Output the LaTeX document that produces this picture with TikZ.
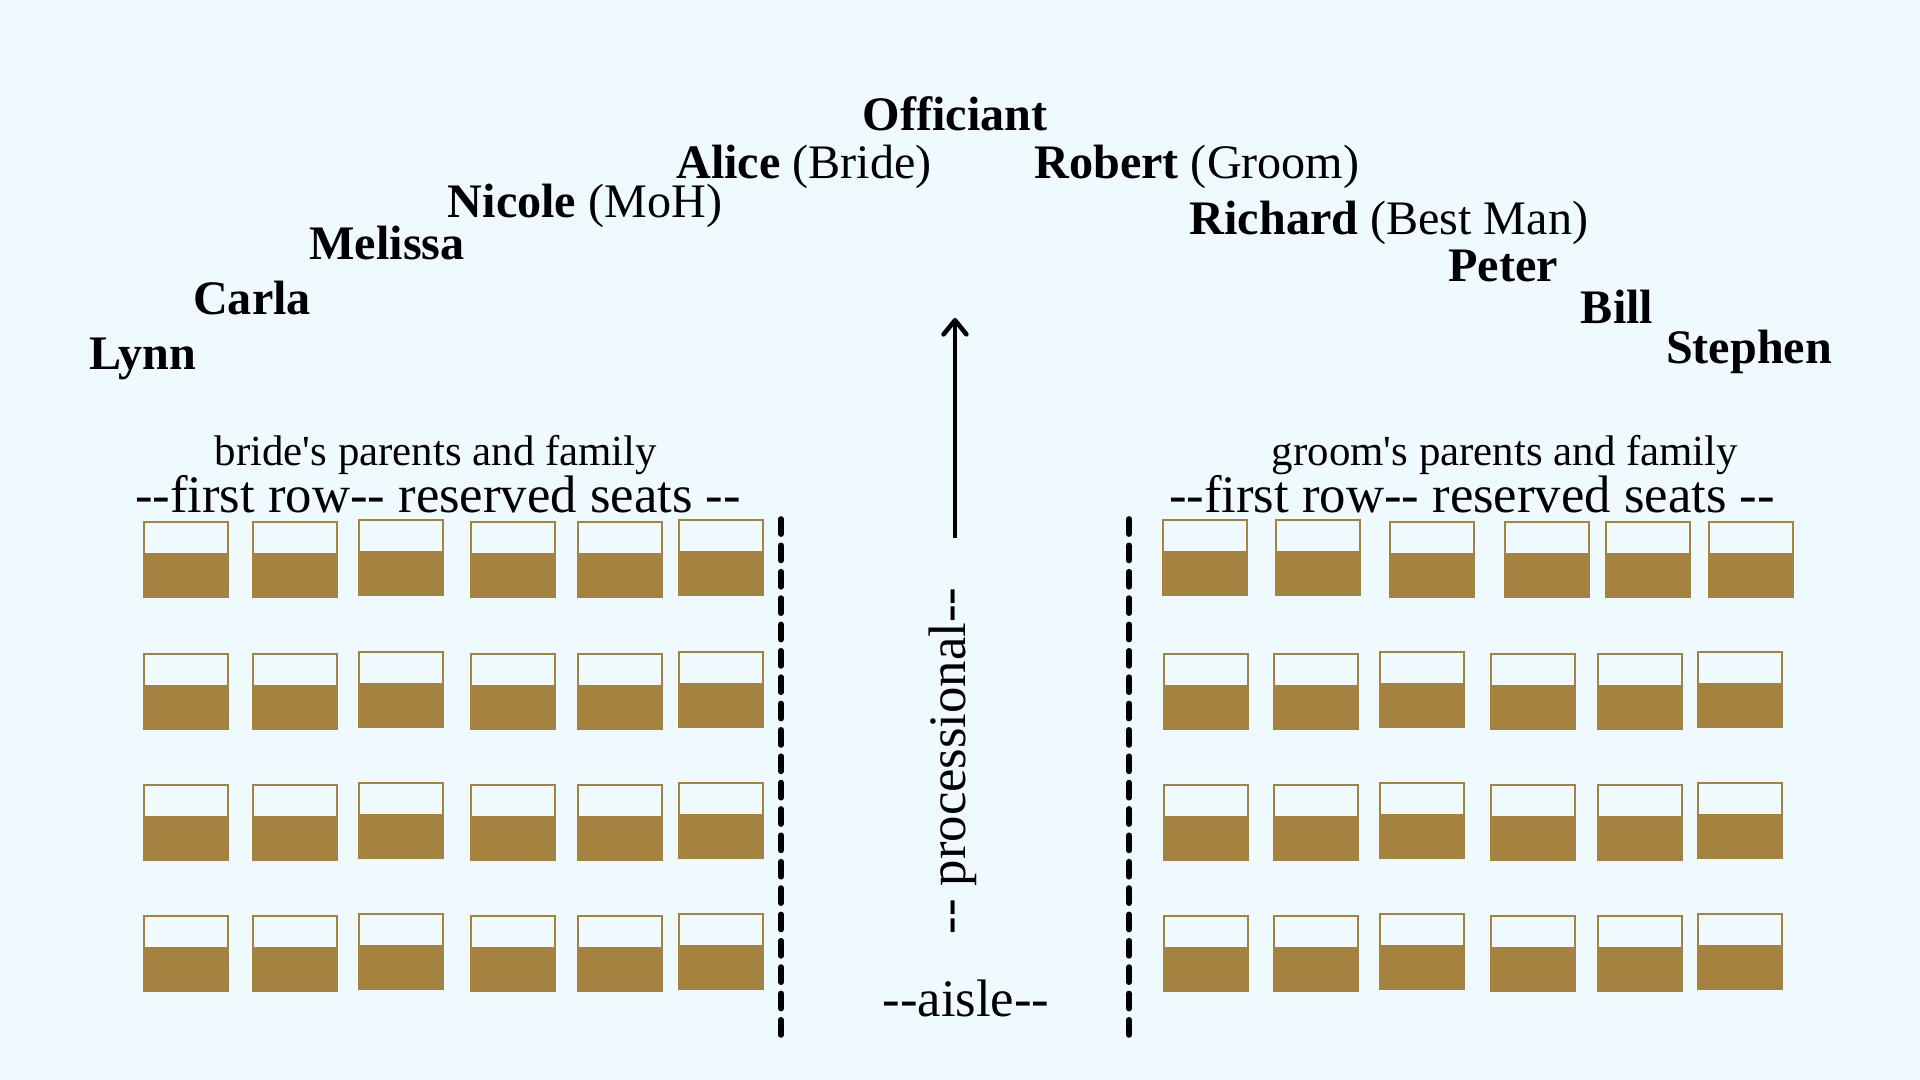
\documentclass[tikz,border=0pt]{standalone}
\usepackage{fontspec}
\setmainfont{Liberation Serif}
\usepackage{tikz}
\usetikzlibrary{arrows.meta, positioning, calc}
\definecolor{hallblue}{RGB}{239, 250, 255}
\definecolor{seatbrown}{RGB}{166, 130, 65}
\definecolor{inkblack}{RGB}{0, 0, 0}

\begin{document}
\begin{tikzpicture}[
    seat/.style={
        rectangle, draw=seatbrown, line width=0.6pt, inner sep=0pt,
        minimum width=0.84cm, minimum height=0.75cm, anchor=north west,
        path picture={\fill[seatbrown] (path picture bounding box.south west)
            rectangle ([yshift=0.44cm]path picture bounding box.south east);}
    },
    guest/.style={anchor=base, text=inkblack, inner sep=0pt,
        font=\fontsize{13.7}{16}\selectfont},
    family/.style={anchor=base, inner sep=0pt, font=\fontsize{12.2}{14}\selectfont},
    reserved/.style={anchor=base, inner sep=0pt, font=\fontsize{15}{18}\selectfont},
    divider/.style={line width=1.6pt, line cap=round, dash pattern=on 4.3pt off 3.2pt},
    arrow/.style={-{Straight Barb[length=4pt, width=6.5pt, round]}, line width=1.3pt}
]
    \useasboundingbox [fill=hallblue] (0,0) rectangle (19.2,10.8);

    % wedding party
    \node [guest] (officiant) at (9.55,9.49) {\textbf{Officiant}};
    \node [guest] (bride)   at (8.04,9.01)  {\textbf{Alice} (Bride)};
    \node [guest] (groom)   at (11.97,9.01) {\textbf{Robert} (Groom)};
    \node [guest] (moh)     at (5.85,8.62)  {\textbf{Nicole} (MoH)};
    \node [guest] (melissa) at (3.87,8.20)  {\textbf{Melissa}};
    \node [guest] (carla)   at (2.52,7.65)  {\textbf{Carla}};
    \node [guest] (lynn)    at (1.43,7.10)  {\textbf{Lynn}};
    \node [guest] (bestman) at (13.89,8.45) {\textbf{Richard} (Best Man)};
    \node [guest] (peter)   at (15.03,7.98) {\textbf{Peter}};
    \node [guest] (bill)    at (16.17,7.56) {\textbf{Bill}};
    \node [guest] (stephen) at (17.49,7.16) {\textbf{Stephen}};

    % family headings
    \node [family]   (bridefam)  at (4.36,6.14)  {bride\textquotesingle s parents and family};
    \node [reserved] (bridefirst) at (4.38,5.67) {-{}-first row-{}- reserved seats -{}-};
    \node [family]   (groomfam)  at (15.05,6.14) {groom\textquotesingle s parents and family};
    \node [reserved] (groomfirst) at (14.72,5.67) {-{}-first row-{}- reserved seats -{}-};

    % seats, bride's side
    \foreach \row/\top in {1/5.59, 2/4.27, 3/2.96, 4/1.65} {
        \foreach \x/\dy [count=\i] in {1.43/0, 2.52/0, 3.58/0.02, 4.70/0, 5.77/0, 6.78/0.02}
            \node [seat] (b-\row-\i) at (\x,\top+\dy) {};
    }

    % seats, groom's side
    \foreach \x/\dy [count=\i] in {11.62/0.02, 12.75/0.02, 13.89/0, 15.04/0, 16.05/0, 17.08/0}
        \node [seat] (g-1-\i) at (\x,5.59+\dy) {};
    \foreach \row/\top in {2/4.27, 3/2.96, 4/1.65} {
        \foreach \x/\dy [count=\i] in {11.63/0, 12.73/0, 13.79/0.02, 14.90/0, 15.97/0, 16.97/0.02}
            \node [seat] (g-\row-\i) at (\x,\top+\dy) {};
    }

    % aisle
    \coordinate (leftedge_top) at (7.81,5.61);
    \coordinate (leftedge_bot) at (7.81,0.40);
    \coordinate (rightedge_top) at (11.29,5.61);
    \coordinate (rightedge_bot) at (11.29,0.40);
    \draw [divider] (leftedge_top) -- (leftedge_bot);
    \draw [divider] (rightedge_top) -- (rightedge_bot);

    \coordinate (walk_start) at (9.55,5.42);
    \coordinate (walk_end) at (9.55,7.62);
    \draw [arrow] (walk_start) -- (walk_end);

    \node [reserved, anchor=center, rotate=90] (processional) at (9.53,3.19) {-{}- processional-{}-};
    \node [reserved] (aisle) at (9.66,0.63) {-{}-aisle-{}-};
\end{tikzpicture}
\end{document}
